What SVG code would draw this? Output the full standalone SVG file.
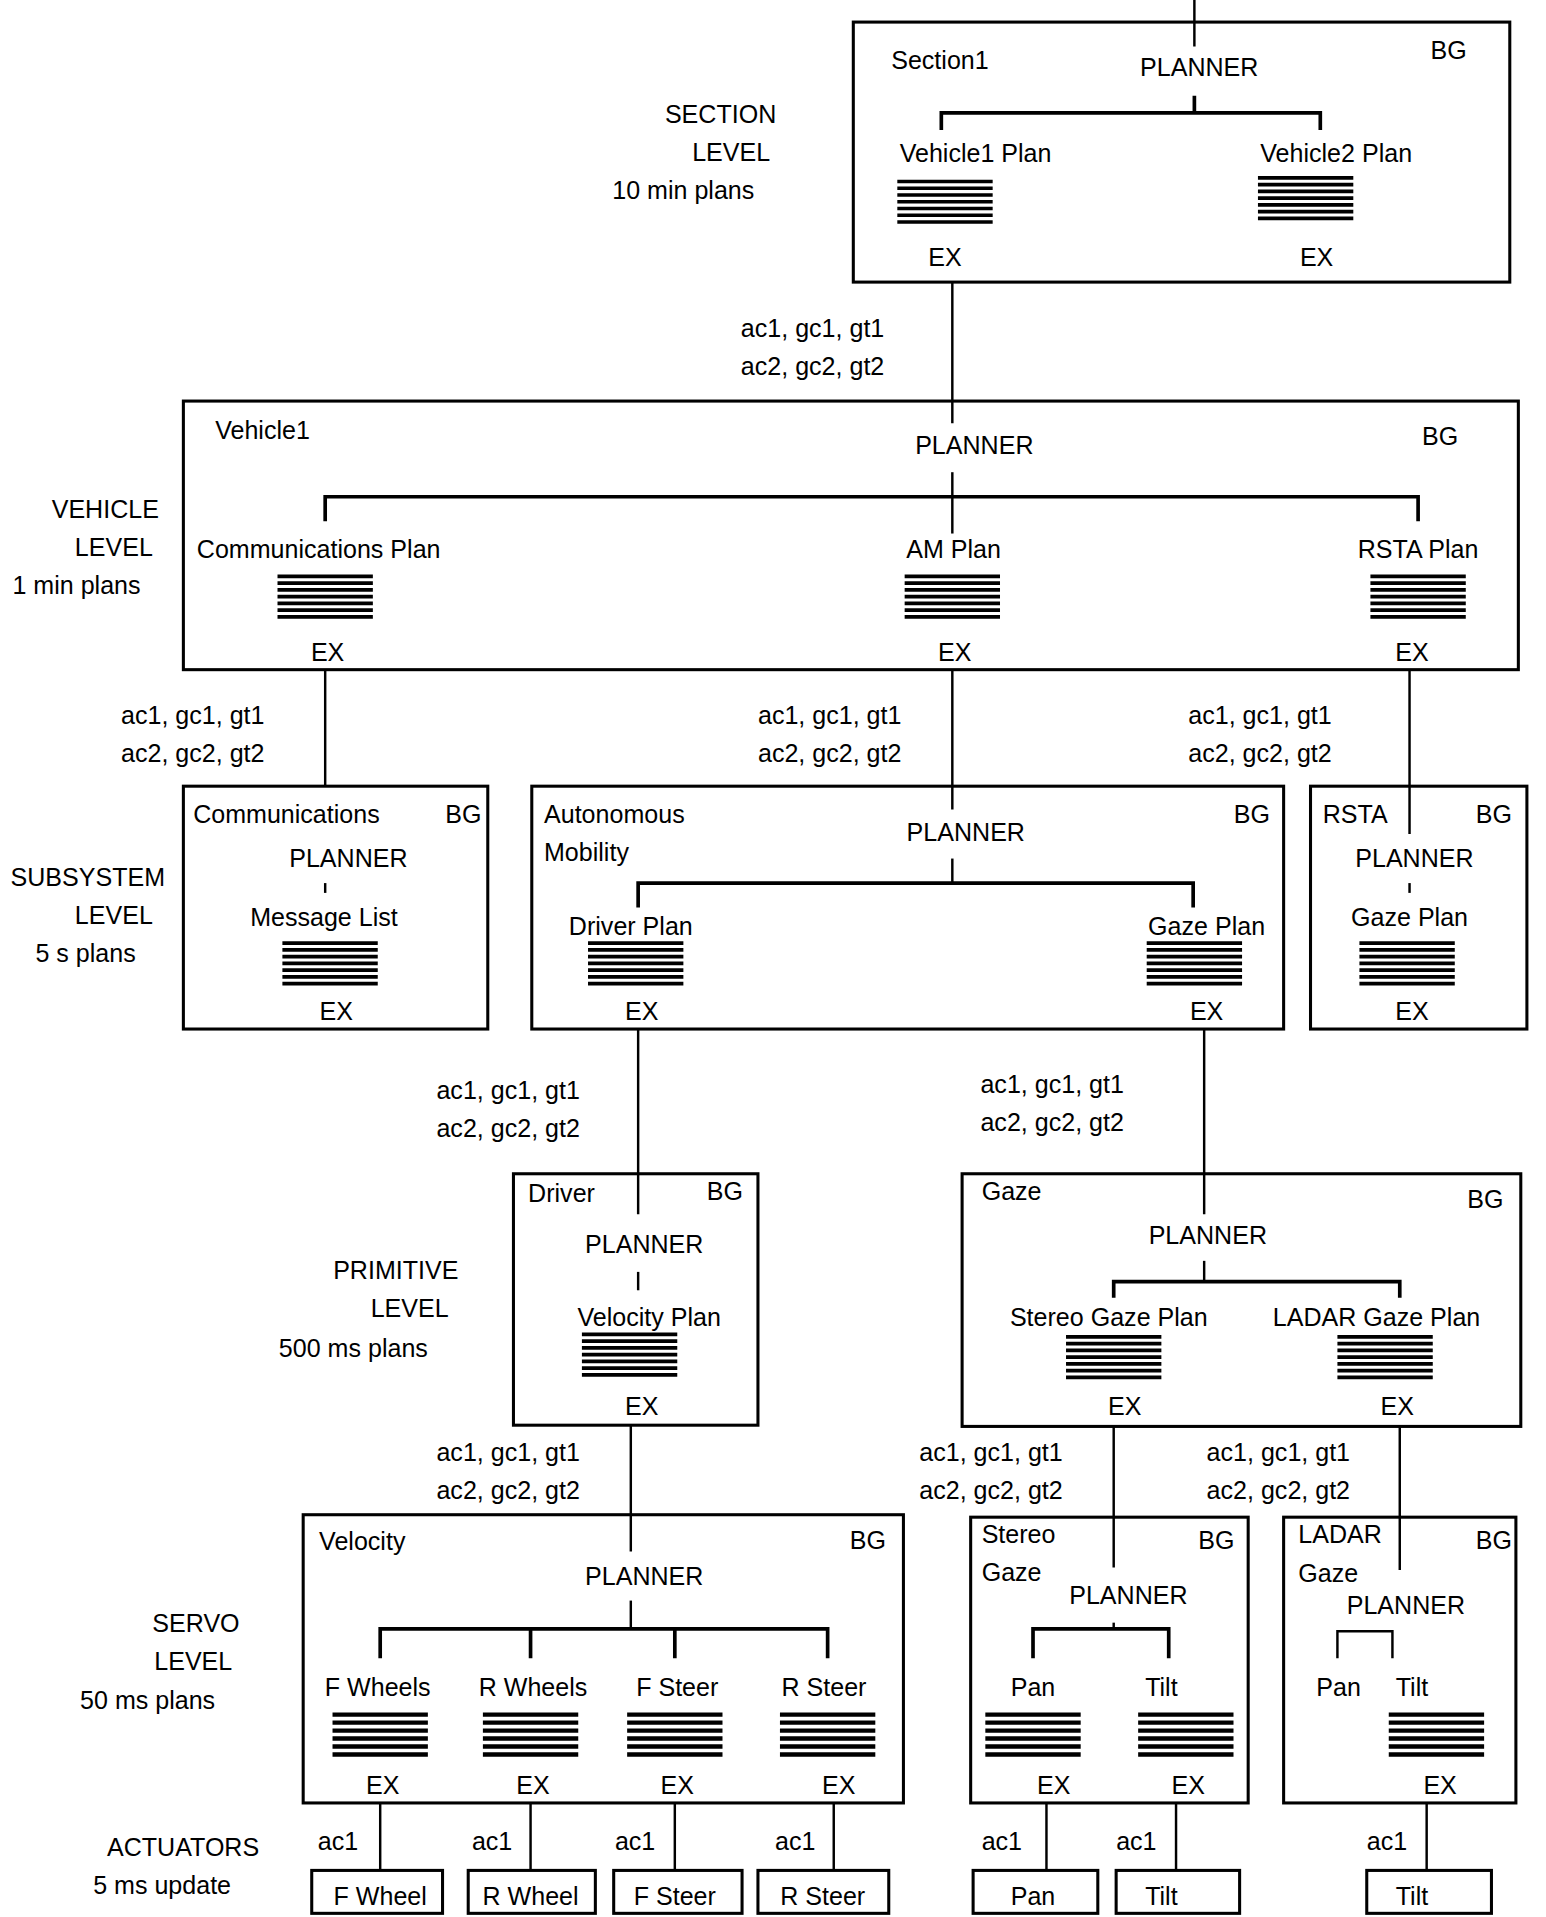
<svg xmlns="http://www.w3.org/2000/svg" width="1546" height="1917" viewBox="0 0 1546 1917">
<style>
text{font-family:"Liberation Sans",Arial,sans-serif;font-size:20.5px;fill:#000}
.m{text-anchor:middle}.e{text-anchor:end}
.b{fill:none;stroke:#000;stroke-width:2.5}
.l{stroke:#000;stroke-width:2;fill:none}
.t{stroke:#000;stroke-width:3;fill:none}
</style>
<defs>
<g id="stk" class="t"><path d="M-39 0h78M-39 5.5h78M-39 11h78M-39 16.5h78M-39 22h78M-39 27.5h78M-39 33h78"/></g>
<g id="stk2" style="stroke:#000;stroke-width:3.6;fill:none"><path d="M-39 0h78M-39 6.5h78M-39 13h78M-39 19.5h78M-39 26h78M-39 32.5h78"/></g>
</defs>
<g transform="scale(1.2225,1.2265)">
<g id="levels">
<text class="e" x="635" y="100">SECTION</text><text class="e" x="630" y="131">LEVEL</text><text class="e" x="617" y="162">10 min plans</text>
<text class="e" x="130" y="422">VEHICLE</text><text class="e" x="125" y="453">LEVEL</text><text class="e" x="115" y="484">1 min plans</text>
<text class="e" x="135" y="722">SUBSYSTEM</text><text class="e" x="125" y="753">LEVEL</text><text class="e" x="111" y="784">5 s plans</text>
<text class="e" x="375" y="1043">PRIMITIVE</text><text class="e" x="367" y="1074">LEVEL</text><text class="e" x="350" y="1106">500 ms plans</text>
<text class="e" x="196" y="1331">SERVO</text><text class="e" x="190" y="1362">LEVEL</text><text class="e" x="176" y="1393">50 ms plans</text>
<text class="e" x="212" y="1513">ACTUATORS</text><text class="e" x="189" y="1544">5 ms update</text>
</g>
<g id="connectors" class="l">
<path d="M977 0V38M779 230V345M266 546V641M779 546V660M1153 546V680M522 839V990M985 839V990M516 1162V1265M911 1163V1278M1145 1163V1280"/>
<path d="M311 1470V1525M434 1470V1525M552 1470V1525M682 1470V1525M856 1470V1525M962 1470V1525M1167 1470V1525"/>
</g>
<g id="conn-labels">
<text x="606" y="275">ac1, gc1, gt1</text><text x="606" y="306">ac2, gc2, gt2</text>
<text x="99" y="590">ac1, gc1, gt1</text><text x="99" y="621">ac2, gc2, gt2</text>
<text x="620" y="590">ac1, gc1, gt1</text><text x="620" y="621">ac2, gc2, gt2</text>
<text x="972" y="590">ac1, gc1, gt1</text><text x="972" y="621">ac2, gc2, gt2</text>
<text x="357" y="896">ac1, gc1, gt1</text><text x="357" y="927">ac2, gc2, gt2</text>
<text x="802" y="891">ac1, gc1, gt1</text><text x="802" y="922">ac2, gc2, gt2</text>
<text x="357" y="1191">ac1, gc1, gt1</text><text x="357" y="1222">ac2, gc2, gt2</text>
<text x="752" y="1191">ac1, gc1, gt1</text><text x="752" y="1222">ac2, gc2, gt2</text>
<text x="987" y="1191">ac1, gc1, gt1</text><text x="987" y="1222">ac2, gc2, gt2</text>
<text x="260" y="1508">ac1</text><text x="386" y="1508">ac1</text><text x="503" y="1508">ac1</text><text x="634" y="1508">ac1</text><text x="803" y="1508">ac1</text><text x="913" y="1508">ac1</text><text x="1118" y="1508">ac1</text>
</g>
<g id="section1">
<rect class="b" x="698" y="18" width="537" height="212"/>
<text x="729" y="56">Section1</text><text class="m" x="981" y="62">PLANNER</text><text class="m" x="1185" y="48">BG</text>
<path class="t" d="M977 78V92M770 106V92H1080V106"/>
<text class="m" x="798" y="132">Vehicle1 Plan</text><text class="m" x="1093" y="132">Vehicle2 Plan</text>
<use href="#stk" x="773" y="148"/><use href="#stk" x="1068" y="145"/>
<text class="m" x="773" y="217">EX</text><text class="m" x="1077" y="217">EX</text>
</g>
<g id="vehicle1">
<rect class="b" x="150" y="327" width="1092" height="219"/>
<text x="176" y="358">Vehicle1</text><text class="m" x="797" y="370">PLANNER</text><text class="m" x="1178" y="363">BG</text>
<path class="l" d="M779 385V435"/><path class="t" d="M266 425V405H1160V425"/>
<text x="161" y="455">Communications Plan</text><text class="m" x="780" y="455">AM Plan</text><text class="m" x="1160" y="455">RSTA Plan</text>
<use href="#stk" x="266" y="470"/><use href="#stk" x="779" y="470"/><use href="#stk" x="1160" y="470"/>
<text class="m" x="268" y="539">EX</text><text class="m" x="781" y="539">EX</text><text class="m" x="1155" y="539">EX</text>
</g>
<g id="communications">
<rect class="b" x="150" y="641" width="249" height="198"/>
<text x="158" y="671">Communications</text><text class="m" x="379" y="671">BG</text>
<text class="m" x="285" y="707">PLANNER</text><path class="l" d="M266 720V728"/>
<text class="m" x="265" y="755">Message List</text><use href="#stk" x="270" y="769"/><text class="m" x="275" y="832">EX</text>
</g>
<g id="autonomous-mobility">
<rect class="b" x="435" y="641" width="615" height="198"/>
<text x="445" y="671">Autonomous</text><text x="445" y="702">Mobility</text>
<text class="m" x="790" y="686">PLANNER</text><text class="m" x="1024" y="671">BG</text>
<path class="l" d="M779 700V720"/><path class="t" d="M522 740V720H976V740"/>
<text class="m" x="516" y="762">Driver Plan</text><text class="m" x="987" y="762">Gaze Plan</text>
<use href="#stk" x="520" y="769"/><use href="#stk" x="977" y="769"/>
<text class="m" x="525" y="832">EX</text><text class="m" x="987" y="832">EX</text>
</g>
<g id="rsta">
<rect class="b" x="1072" y="641" width="177" height="198"/>
<text x="1082" y="671">RSTA</text><text class="m" x="1222" y="671">BG</text>
<text class="m" x="1157" y="707">PLANNER</text><path class="l" d="M1153 720V728"/>
<text class="m" x="1153" y="755">Gaze Plan</text><use href="#stk" x="1151" y="769"/><text class="m" x="1155" y="832">EX</text>
</g>
<g id="driver">
<rect class="b" x="420" y="957" width="200" height="205"/>
<text x="432" y="980">Driver</text><text class="m" x="593" y="978">BG</text>
<text class="m" x="527" y="1022">PLANNER</text><path class="l" d="M522 1037V1052"/>
<text class="m" x="531" y="1081">Velocity Plan</text><use href="#stk" x="515" y="1088"/><text class="m" x="525" y="1154">EX</text>
</g>
<g id="gaze">
<rect class="b" x="787" y="957" width="457" height="206"/>
<text x="803" y="978">Gaze</text><text class="m" x="1215" y="985">BG</text>
<text class="m" x="988" y="1014">PLANNER</text>
<path class="l" d="M985 1028V1045"/><path class="t" d="M911 1058V1045H1145V1058"/>
<text class="m" x="907" y="1081">Stereo Gaze Plan</text><text class="m" x="1126" y="1081">LADAR Gaze Plan</text>
<use href="#stk" x="911" y="1090"/><use href="#stk" x="1133" y="1090"/>
<text class="m" x="920" y="1154">EX</text><text class="m" x="1143" y="1154">EX</text>
</g>
<g id="velocity">
<rect class="b" x="248" y="1235" width="491" height="235"/>
<text x="261" y="1264">Velocity</text><text class="m" x="710" y="1263">BG</text>
<text class="m" x="527" y="1292">PLANNER</text>
<path class="l" d="M516 1305V1328"/><path class="t" d="M311 1352V1328H677V1352M434 1328V1352M552 1328V1352"/>
<text class="m" x="309" y="1383">F Wheels</text><text class="m" x="436" y="1383">R Wheels</text><text class="m" x="554" y="1383">F Steer</text><text class="m" x="674" y="1383">R Steer</text>
<use href="#stk2" x="311" y="1398"/><use href="#stk2" x="434" y="1398"/><use href="#stk2" x="552" y="1398"/><use href="#stk2" x="677" y="1398"/>
<text class="m" x="313" y="1463">EX</text><text class="m" x="436" y="1463">EX</text><text class="m" x="554" y="1463">EX</text><text class="m" x="686" y="1463">EX</text>
</g>
<g id="stereo-gaze">
<rect class="b" x="794" y="1237" width="227" height="233"/>
<text x="803" y="1258">Stereo</text><text x="803" y="1289">Gaze</text><text class="m" x="995" y="1263">BG</text>
<text class="m" x="923" y="1308">PLANNER</text>
<path class="l" d="M911 1323V1328"/><path class="t" d="M845 1352V1328H956V1352"/>
<text class="m" x="845" y="1383">Pan</text><text class="m" x="950" y="1383">Tilt</text>
<use href="#stk2" x="845" y="1398"/><use href="#stk2" x="970" y="1398"/>
<text class="m" x="862" y="1463">EX</text><text class="m" x="972" y="1463">EX</text>
</g>
<g id="ladar-gaze">
<rect class="b" x="1050" y="1237" width="190" height="233"/>
<text x="1062" y="1258">LADAR</text><text x="1062" y="1290">Gaze</text><text class="m" x="1222" y="1263">BG</text>
<text class="m" x="1150" y="1316">PLANNER</text>
<path class="l" d="M1094 1352V1330H1139V1352"/>
<text class="m" x="1095" y="1383">Pan</text><text class="m" x="1155" y="1383">Tilt</text>
<use href="#stk2" x="1175" y="1398"/><text class="m" x="1178" y="1463">EX</text>
</g>
<g id="actuators">
<rect class="b" x="255" y="1525" width="107" height="35"/><text class="m" x="311" y="1553">F Wheel</text>
<rect class="b" x="383" y="1525" width="104" height="35"/><text class="m" x="434" y="1553">R Wheel</text>
<rect class="b" x="502" y="1525" width="105" height="35"/><text class="m" x="552" y="1553">F Steer</text>
<rect class="b" x="620" y="1525" width="107" height="35"/><text class="m" x="673" y="1553">R Steer</text>
<rect class="b" x="796" y="1525" width="102" height="35"/><text class="m" x="845" y="1553">Pan</text>
<rect class="b" x="913" y="1525" width="101" height="35"/><text class="m" x="950" y="1553">Tilt</text>
<rect class="b" x="1118" y="1525" width="102" height="35"/><text class="m" x="1155" y="1553">Tilt</text>
</g>
</g>
</svg>
